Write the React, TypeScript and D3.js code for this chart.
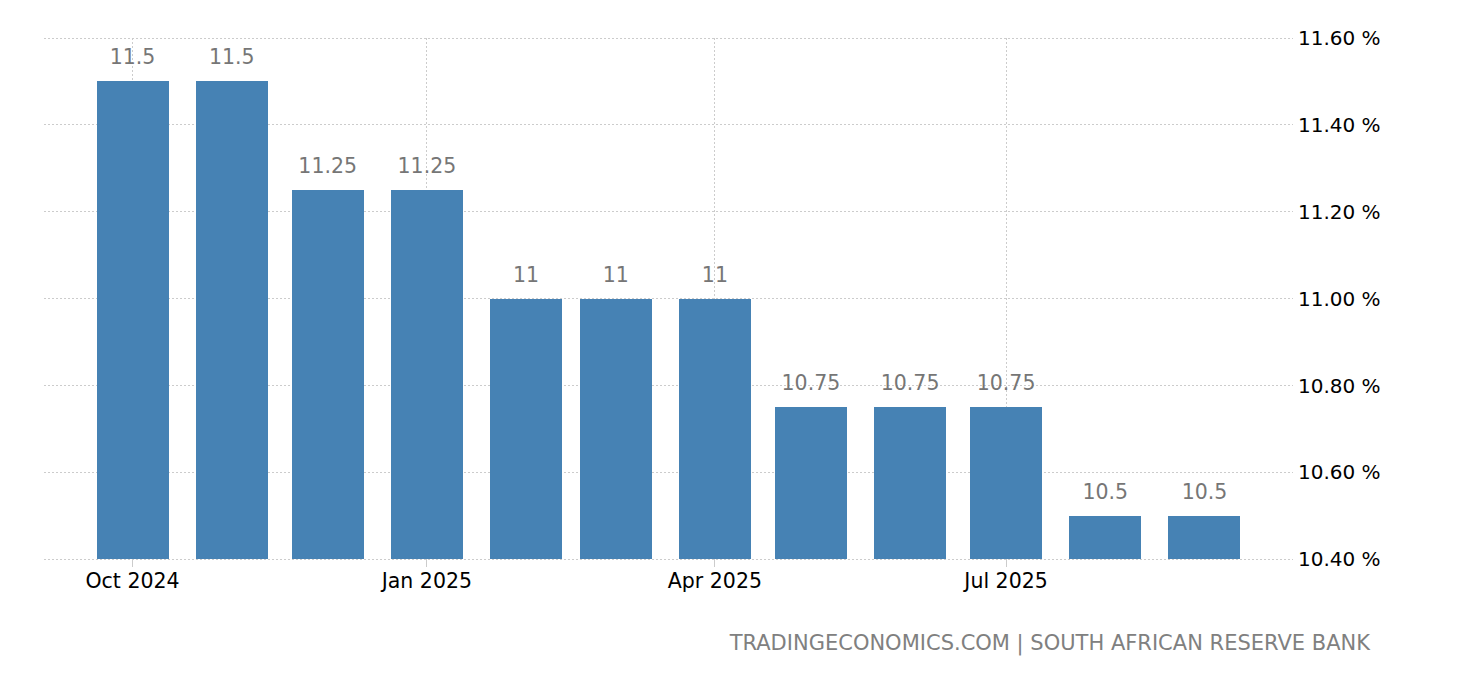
import React from "react";
import * as d3 from "d3";

const months: string[] = [
  "2024-10-01", "2024-11-01", "2024-12-01", "2025-01-01", "2025-02-01", "2025-03-01",
  "2025-04-01", "2025-05-01", "2025-06-01", "2025-07-01", "2025-08-01", "2025-09-01",
];
const values: number[] = [11.5, 11.5, 11.25, 11.25, 11, 11, 11, 10.75, 10.75, 10.75, 10.5, 10.5];
const yTicks: number[] = [10.4, 10.6, 10.8, 11.0, 11.2, 11.4, 11.6];
const xTickDates: string[] = ["2024-10-01", "2025-01-01", "2025-04-01", "2025-07-01"];
const xTickLabels: string[] = ["Oct 2024", "Jan 2025", "Apr 2025", "Jul 2025"];
const footer = "TRADINGECONOMICS.COM | SOUTH AFRICAN RESERVE BANK";

const W = 1460;
const H = 680;
const FONT = "'DejaVu Sans', sans-serif";

const parse = (s: string) => {
  const [y, m, d] = s.split("-").map(Number);
  return new Date(y, m - 1, d);
};

export default function App() {
  const x = d3
    .scaleTime()
    .domain([new Date(2024, 8, 3, 8), new Date(2025, 8, 28, 16)])
    .range([44, 1293]);
  const y = d3.scaleLinear().domain([10.4, 11.6]).range([559, 38]);
  const barW = 72;
  const fmtVal = (v: number) => String(v);

  return (
    <svg
      width={W}
      height={H}
      style={{ position: "absolute", left: 0, top: 0, background: "#fff" }}
      fontFamily={FONT}
    >
      {yTicks.map((t) => (
        <line
          key={"gy" + t}
          x1={44}
          x2={1293}
          y1={y(t)}
          y2={y(t)}
          stroke="#cccccc"
          strokeWidth={1}
          strokeDasharray="2,2"
          shapeRendering="crispEdges"
        />
      ))}
      {xTickDates.map((d) => (
        <line
          key={"gx" + d}
          x1={x(parse(d))}
          x2={x(parse(d))}
          y1={y(11.6)}
          y2={y(10.4)}
          stroke="#cccccc"
          strokeWidth={1}
          strokeDasharray="2,2"
          shapeRendering="crispEdges"
        />
      ))}
      {months.map((m, i) => {
        const cx = x(parse(m));
        return (
          <rect
            key={"b" + m}
            x={cx - barW / 2}
            y={y(values[i])}
            width={barW}
            height={y(10.4) - y(values[i])}
            fill="#4682B4"
            shapeRendering="crispEdges"
          />
        );
      })}
      {months.map((m, i) => (
        <text
          key={"l" + m}
          x={x(parse(m))}
          y={y(values[i]) - 17}
          textAnchor="middle"
          fontSize={20.5}
          fill="#767676"
        >
          {fmtVal(values[i])}
        </text>
      ))}
      {xTickDates.map((d, i) => (
        <g key={"xt" + d}>
          <line
            x1={x(parse(d))}
            x2={x(parse(d))}
            y1={559}
            y2={567}
            stroke="#cccccc"
            shapeRendering="crispEdges"
          />
          <text
            x={x(parse(d))}
            y={588}
            textAnchor="middle"
            fontSize={20.5}
            fill="#000"
          >
            {xTickLabels[i]}
          </text>
        </g>
      ))}
      {yTicks.map((t) => (
        <text
          key={"yt" + t}
          x={1298}
          y={y(t)}
          dy="0.36em"
          fontSize={20}
          fill="#000"
        >
          {t.toFixed(2) + " %"}
        </text>
      ))}
      <text
        x={1370}
        y={650}
        textAnchor="end"
        fontSize={21}
        fill="#808080"
      >
        {footer}
      </text>
    </svg>
  );
}
